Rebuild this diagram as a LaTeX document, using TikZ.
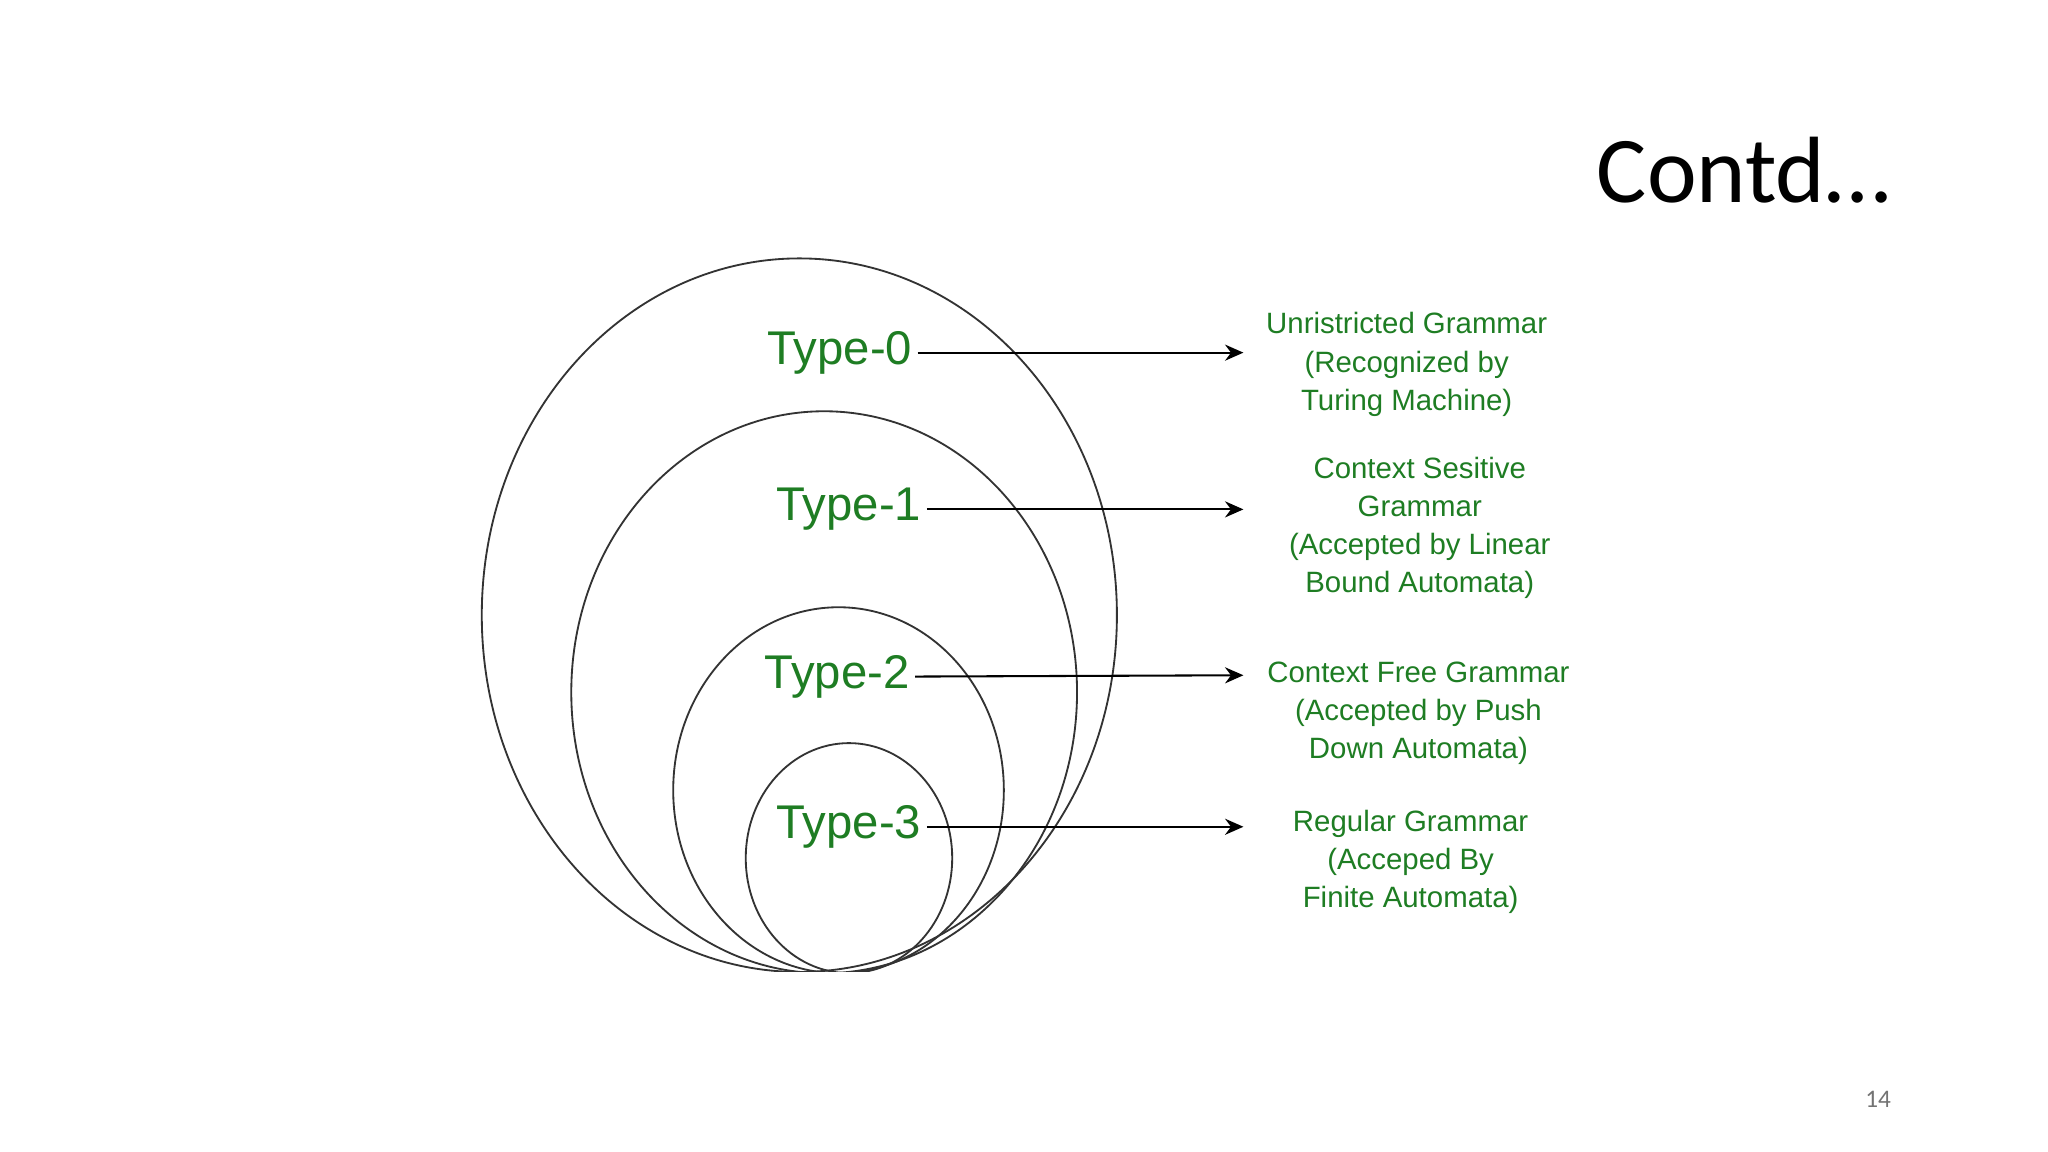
\documentclass[tikz,border=0pt]{standalone}
\usepackage{fontspec}
\setmainfont{Liberation Sans}
\newfontfamily\calib{Carlito}
\usetikzlibrary{arrows.meta}
\definecolor{grn}{RGB}{30,125,35}
\tikzset{
  typelbl/.style={text=grn,font=\fontsize{10.3}{12}\selectfont,inner sep=1pt},
  desc/.style={text=grn,font=\fontsize{6.4}{8.3}\selectfont,align=center,inner sep=0pt},
  conn/.style={-{Stealth[length=4pt,width=3.5pt]},line width=0.45pt},
  ring/.style={line width=0.4pt,draw=black!80}
}
\begin{document}
\begin{tikzpicture}[x=0.01cm,y=-0.01cm]
\useasboundingbox (0,0) rectangle (1568,882);
\fill[white] (0,0) rectangle (1568,882);
\begin{scope}
\clip (0,0) rectangle (1568,744);
\draw[ring] (612,471) ellipse [x radius=2.43cm,y radius=2.73cm];
\draw[ring] (631,530) ellipse [x radius=1.935cm,y radius=2.15cm];
\draw[ring] (642,605) ellipse [x radius=1.265cm,y radius=1.40cm];
\draw[ring] (650,657) ellipse [x radius=0.79cm,y radius=0.88cm];
\end{scope}
\node[typelbl] (t0) at (643,270) {Type-0};
\node[typelbl] (t1) at (650,390) {Type-1};
\node[typelbl] (t2) at (641,518) {Type-2};
\node[typelbl] (t3) at (650,633) {Type-3};
\coordinate (a0) at (952,270);
\coordinate (a1) at (952,390);
\coordinate (a2) at (952,517);
\coordinate (a3) at (952,633);
\draw[conn] (t0.east) -- (a0);
\draw[conn] (t1.east) -- (a1);
\draw[conn] (t2.east) -- (a2);
\draw[conn] (t3.east) -- (a3);
\node[desc] (d0) at (1077,279) {Unristricted Grammar\\(Recognized by\\Turing Machine)};
\node[desc] (d1) at (1087,404) {Context Sesitive\\Grammar\\(Accepted by Linear\\Bound Automata)};
\node[desc] (d2) at (1086,546) {Context Free Grammar\\(Accepted by Push\\Down Automata)};
\node[desc] (d3) at (1080,660) {Regular Grammar\\(Acceped By\\Finite Automata)};
\node[font=\calib\fontsize{20.5}{24}\selectfont,inner sep=0pt] (title) at (1335,130) {Contd…};
\node[font=\calib\fontsize{5.5}{6}\selectfont,text=black!55,inner sep=0pt] (pg) at (1438,842) {14};
\end{tikzpicture}
\end{document}
